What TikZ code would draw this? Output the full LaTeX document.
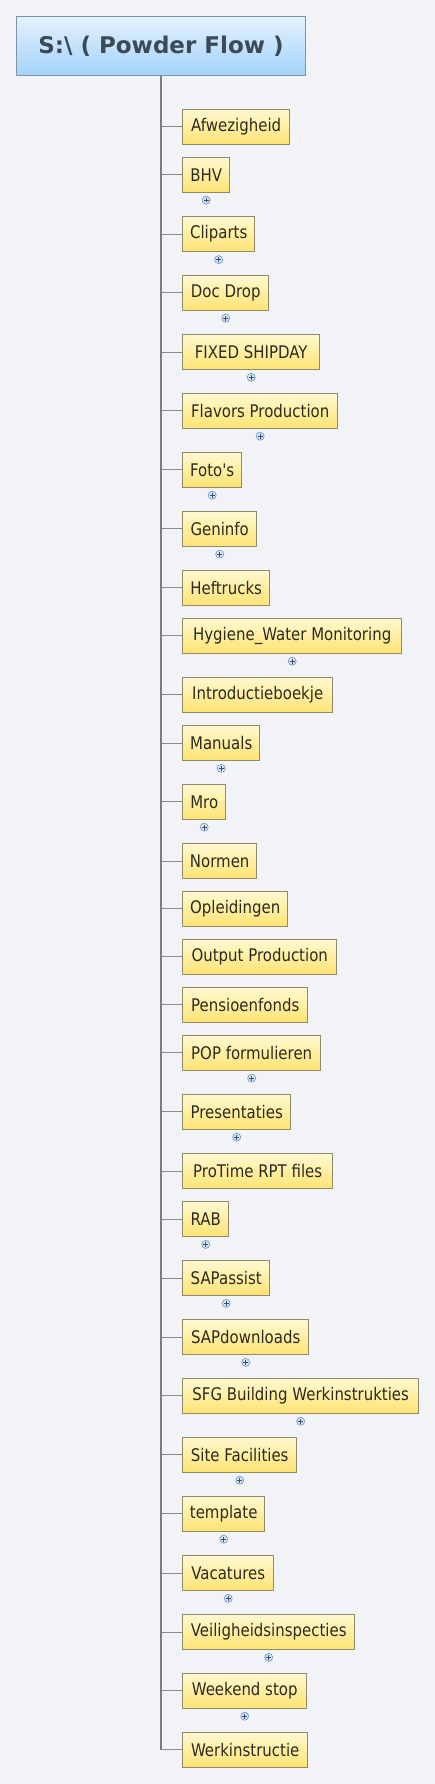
\documentclass[tikz,border=0pt]{standalone}
\usepackage{fontspec}
\setmainfont{DejaVu Sans}[FakeStretch=0.86, Ligatures=TeXOff]
\newfontfamily\rootfont{DejaVu Sans}
\definecolor{bgcol}{HTML}{F1F3F7}
\definecolor{roottop}{HTML}{E4F1FD}
\definecolor{rootbot}{HTML}{A4D3F9}
\definecolor{rootborder}{HTML}{7F93A6}
\definecolor{roottext}{HTML}{3C4A58}
\definecolor{leaftop}{HTML}{FFF9D2}
\definecolor{leafbot}{HTML}{FFE372}
\definecolor{leafborder}{HTML}{8F8A6A}
\definecolor{leaftext}{HTML}{2B2A1E}
\definecolor{trunkcol}{HTML}{7C7C80}
\definecolor{branchcol}{HTML}{8C8C8C}
\definecolor{plusfill}{HTML}{D6E4F2}
\definecolor{plusborder}{HTML}{7F9CBB}
\definecolor{pluscol}{HTML}{2F4F7F}
\begin{document}
\begin{tikzpicture}[x=1pt,y=-1pt,
  rootbox/.style={draw=rootborder, line width=0.8pt, top color=roottop, bottom color=rootbot,
    inner sep=0pt, text=roottext, font=\rootfont\bfseries\fontsize{23}{26}\selectfont},
  leaf/.style={draw=leafborder, line width=0.8pt, top color=leaftop, bottom color=leafbot,
    minimum height=35pt, inner sep=0pt, anchor=west, text=leaftext,
    font=\fontsize{17.4}{20}\selectfont},
  trunk/.style={draw=trunkcol, line width=1.8pt},
  branch/.style={draw=branchcol, line width=0.9pt},
  plusicon/.style={circle, draw=plusborder, line width=0.7pt, fill=plusfill, minimum size=8pt, inner sep=0pt},
  plusmark/.style={draw=pluscol, line width=0.8pt}
]
\fill[bgcol] (0,0) rectangle (435,1784);
\useasboundingbox (0,0) rectangle (435,1784);
\node[rootbox, minimum width=289.4pt, minimum height=59.4pt] (root) at (161,46) {S:\textbackslash{} ( Powder Flow )};
\foreach \n/\cy/\r/\t/\p in {
  n1/126.8/289.3/Afwezigheid/0,
  n2/174.8/229.3/BHV/1,
  n3/234.2/254.3/Cliparts/1,
  n4/292.8/268.3/Doc Drop/1,
  n5/352.0/319.3/FIXED SHIPDAY/1,
  n6/410.8/337.3/Flavors Production/1,
  n7/469.8/241.3/Foto's/1,
  n8/528.8/256.3/Geninfo/1,
  n9/587.8/269.3/Heftrucks/0,
  n10/635.8/401.3/Hygiene\_Water Monitoring/1,
  n11/694.8/332.3/Introductieboekje/0,
  n12/743.0/259.3/Manuals/1,
  n13/801.8/225.3/Mro/1,
  n14/861.0/256.3/Normen/0,
  n15/908.8/287.3/Opleidingen/0,
  n16/956.8/336.3/Output Production/0,
  n17/1004.8/307.3/Pensioenfonds/0,
  n18/1052.8/320.3/POP formulieren/1,
  n19/1111.8/290.3/Presentaties/1,
  n20/1171.0/332.3/ProTime RPT files/0,
  n21/1219.0/228.3/RAB/1,
  n22/1278.0/269.3/SAPassist/1,
  n23/1337.0/308.3/SAPdownloads/1,
  n24/1395.8/418.3/SFG Building Werkinstrukties/1,
  n25/1454.8/296.3/Site Facilities/1,
  n26/1513.8/264.3/template/1,
  n27/1573.0/273.3/Vacatures/1,
  n28/1632.0/354.3/Veiligheidsinspecties/1,
  n29/1690.8/306.3/Weekend stop/1,
  n30/1749.8/307.3/Werkinstructie/0} {
  \node[leaf, minimum width={\r-182.3}] (\n) at (182.3,\cy) {\t};
  \draw[branch] (root.south |- \n.west) -- (\n.west);
  \ifnum\p=1
    \node[plusicon, yshift=-7.5pt] (\n p) at (\n.south) {};
    \draw[plusmark] (\n p.center) +(-2.3,0) -- +(2.3,0) (\n p.center) +(0,-2.3) -- +(0,2.3);
  \fi
}
\draw[trunk] (root.south) -- (root.south |- n30.west);
\end{tikzpicture}
\end{document}
